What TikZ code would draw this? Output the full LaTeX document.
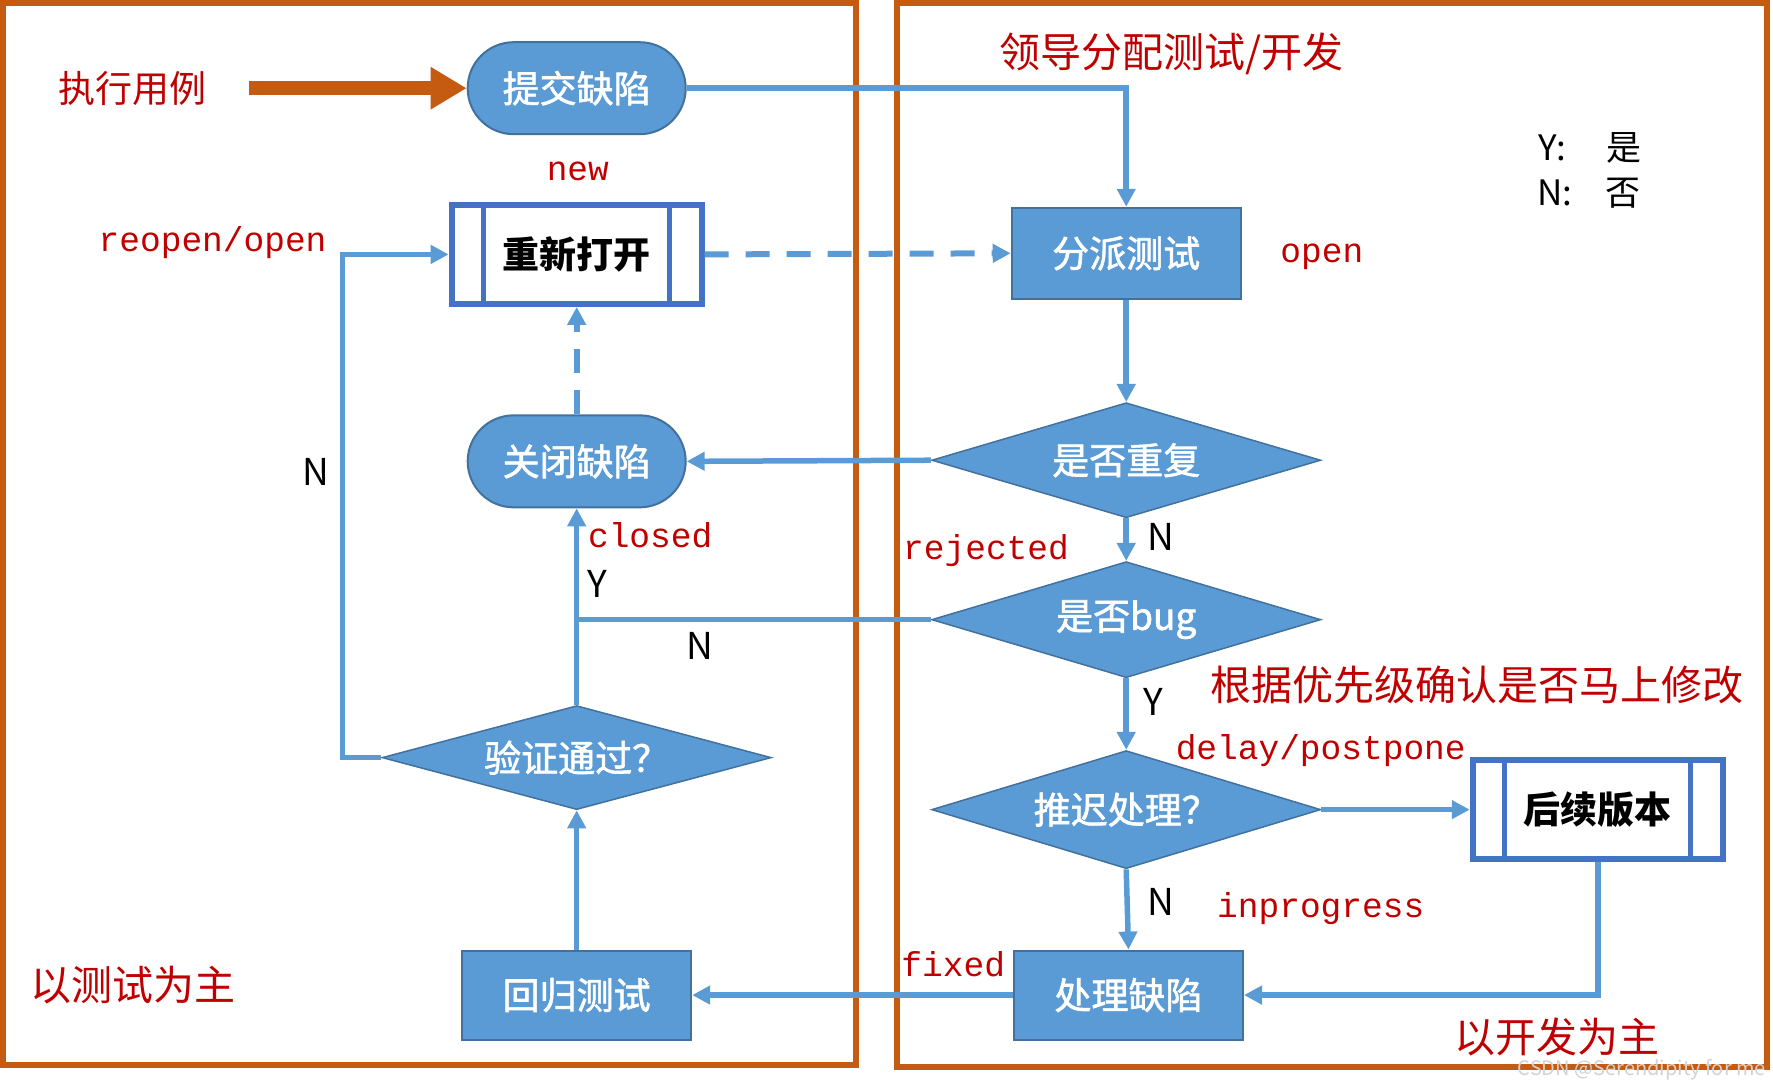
\documentclass[tikz,border=0pt]{standalone}
\usepackage{fontspec}
\setmainfont{Noto Sans CJK SC}
\newfontfamily\monof{Liberation Mono}
\newfontfamily\nodef[FakeBold=1.6]{Noto Sans CJK SC}
\usetikzlibrary{shapes.geometric,shapes.misc,arrows.meta}
\definecolor{frameor}{HTML}{C55A11}
\definecolor{nodefill}{HTML}{5B9BD5}
\definecolor{nodeedge}{HTML}{41719C}
\definecolor{boxedge}{HTML}{4472C4}
\definecolor{lblred}{HTML}{C00000}
\tikzset{
  frameline/.style={draw=frameor, line width=6pt},
  nodetext/.style={font=\nodef\fontsize{37}{40}\selectfont},
  stadium/.style={rounded rectangle, fill=nodefill, draw=nodeedge, line width=2pt,
    minimum width=218pt, minimum height=92pt, inner sep=0pt, text=white, nodetext},
  procbox/.style={rectangle, fill=nodefill, draw=nodeedge, line width=2pt,
    minimum width=229pt, minimum height=89pt, inner sep=0pt, text=white, nodetext},
  decision/.style={diamond, aspect=3.4, fill=nodefill, draw=nodeedge, line width=1.5pt,
    minimum width=389pt, minimum height=115pt, inner sep=0pt, text=white, nodetext},
  subproc/.style={rectangle, draw=boxedge, fill=white, line width=6pt,
    minimum width=250pt, minimum height=99pt, inner sep=0pt, text=black,
    font=\fontsize{37}{40}\selectfont\bfseries,
    path picture={
      \draw[boxedge, line width=5pt]
        ([xshift=32pt]path picture bounding box.north west) --
        ([xshift=32pt]path picture bounding box.south west);
      \draw[boxedge, line width=5pt]
        ([xshift=-32pt]path picture bounding box.north east) --
        ([xshift=-32pt]path picture bounding box.south east);
    }},
  conn/.style={draw=nodefill, line width=5.5pt, -{Triangle[length=18pt,width=18pt]}},
  plainconn/.style={draw=nodefill, line width=5.5pt},
  dashconn/.style={conn, line width=6pt, dash pattern=on 24pt off 17pt},
  bigarrow/.style={draw=frameor, line width=14pt, -{Triangle[length=36pt,width=40pt]}},
  redlbl/.style={text=lblred, font=\fontsize{41}{44}\selectfont, inner sep=0pt},
  statelbl/.style={text=lblred, font=\monof\fontsize{34.5}{40}\selectfont, inner sep=0pt, anchor=base},
  yn/.style={text=black, font=\fontsize{37}{40}\selectfont, inner sep=0pt, anchor=base},
  legend/.style={text=black, font=\fontsize{35}{38}\selectfont, inner sep=0pt},
}
\begin{document}
\begin{tikzpicture}[x=1.1307pt,y=-1.1307pt]
\useasboundingbox (0,0) rectangle (1568,959);
\draw[frameline] (3,3) rectangle (757,942);
\draw[frameline] (793,3) rectangle (1563,944);

% nodes
\node[stadium] (submit) at (510,78) {提交缺陷};
\node[subproc] (reopen) at (510,225) {重新打开};
\node[procbox, minimum height=91pt] (assign) at (996,224) {分派测试};
\node[decision] (dup) at (996,407) {是否重复};
\node[stadium] (close) at (510,408) {关闭缺陷};
\node[decision, minimum height=116pt] (bug) at (996,548) {是否bug};
\node[decision, minimum height=104pt] (verify) at (510,670) {验证通过？};
\node[decision, minimum height=118pt] (delay) at (996,716) {推迟处理？};
\node[subproc] (later) at (1413,716) {后续版本};
\node[procbox] (fix) at (998,880) {处理缺陷};
\node[procbox] (regress) at (510,880) {回归测试};

% connectors
\coordinate (exstart) at (220,78);
\draw[bigarrow] (exstart) -- (submit.west);
\draw[conn] (submit.east) -| (assign.north);
\draw[dashconn] (reopen.east) -- (assign.west);
\draw[conn] (assign.south) -- (dup.north);
\draw[conn] (dup.west) -- (close.east);
\draw[conn] (dup.south) -- (bug.north);
\draw[plainconn] (bug.west) -- (bug.west -| close.south);
\draw[conn] (verify.north) -- (close.south);
\draw[conn] (bug.south) -- (delay.north);
\draw[conn] (delay.east) -- (later.west);
\draw[conn] (delay.south) -- (fix.north);
\draw[conn] (later.south) |- (fix.east);
\draw[conn] (fix.west) -- (regress.east);
\draw[conn] (regress.north) -- (verify.south);
\coordinate (loopc) at (303,670);
\draw[conn] (verify.west) -- (loopc) |- (reopen.west);
\draw[dashconn] (close.north) -- (reopen.south);

% labels
\node[redlbl, font=\fontsize{37}{40}\selectfont] (exec) at (117,78) {执行用例};
\node[statelbl] (lnew) at (511,160) {new};
\node[statelbl] (lreopen) at (188,222) {reopen/open};
\node[redlbl] (llead) at (1036,48) {领导分配测试/开发};
\node[statelbl] (lopen) at (1169,232) {open};
\node[legend] (ly) at (1373,131) {Y:};
\node[legend] (lyes) at (1436,131) {是};
\node[legend] (ln) at (1375,171) {N:};
\node[legend] (lno) at (1435,171) {否};
\node[yn] (n1) at (279,429) {N};
\node[statelbl] (lclosed) at (575,484) {closed};
\node[yn] (y1) at (528,528) {Y};
\node[statelbl] (lrej) at (872,495) {rejected};
\node[yn] (n2) at (1027,487) {N};
\node[yn] (n3) at (619,583) {N};
\node[redlbl] (lprio) at (1306,606) {根据优先级确认是否马上修改};
\node[yn] (y2) at (1020,633) {Y};
\node[statelbl] (ldelay) at (1168,672) {delay/postpone};
\node[yn] (n4) at (1027,810) {N};
\node[statelbl] (lprog) at (1168,811) {inprogress};
\node[statelbl] (lfixed) at (843,864) {fixed};
\node[redlbl] (ltest) at (118,871) {以测试为主};
\node[redlbl] (ldev) at (1377,917) {以开发为主};
\node[text=gray!35, font=\fontsize{20}{22}\selectfont, inner sep=0pt] (wm) at (1452,946) {CSDN @Serendipity for me};
\end{tikzpicture}
\end{document}
